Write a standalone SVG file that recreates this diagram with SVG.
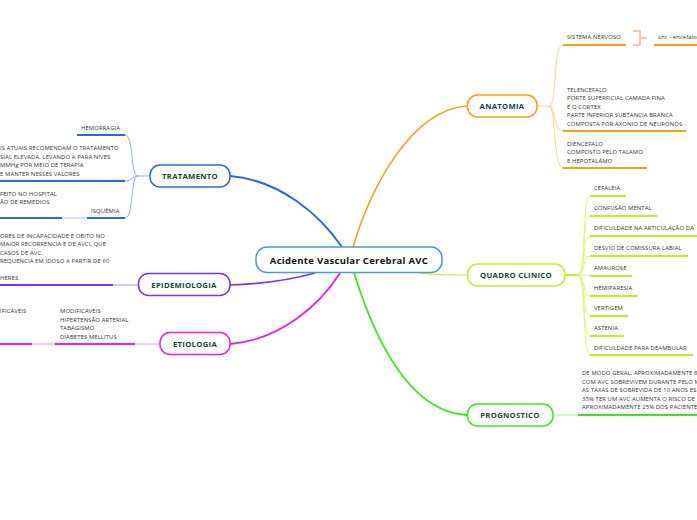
<svg xmlns="http://www.w3.org/2000/svg" width="697" height="520" viewBox="0 0 697 520">
<style>
text{font-family:"Open Sans","Noto Sans","Liberation Sans",sans-serif;fill:#333;font-size:5.9px;letter-spacing:.1px}
.n{font-size:7.7px;font-weight:700;fill:#0d4a3c;text-anchor:middle;letter-spacing:.3px}
.c{font-size:9.5px;font-weight:700;fill:#111;text-anchor:middle;letter-spacing:.3px}
path,line{fill:none}
rect{fill:#fff;stroke-width:1.5}
.u{stroke-width:2}.l{stroke-width:1}
</style>
<rect width="697" height="520" style="fill:#fff;stroke:none"/>
<g id="connectors">
<g stroke="#2b66f0">
<path d="M342 247C320 215 280 180 230 176" stroke-width="2" />
<path class="l" stroke="#8fb0fa" d="M150 176H138C130 176 134 135 125 135M138 176C132 176 132 181 125 181M138 176C130 176 134 218 125 218"/>
<line class="u" x1="77" y1="135" x2="125" y2="135"/><line class="u" x1="0" y1="181" x2="125" y2="181"/><line class="u" x1="0" y1="218" x2="62" y2="218"/><line class="u" x1="87" y1="218" x2="125" y2="218"/>
<line class="l" stroke="#a9c2fb" x1="62" y1="218" x2="87" y2="218"/>
</g>
<g stroke="#7b2ff7">
<path d="M315 273C290 280 260 284 230 285" stroke-width="1.6"/>
<line class="u" x1="0" y1="285" x2="113" y2="285"/><line class="l" stroke="#b98ffb" x1="113" y1="285" x2="138" y2="285"/>
</g>
<g stroke="#f01fe8">
<path d="M340 273C320 305 280 340 230 344" stroke-width="1.8"/>
<line class="u" x1="0" y1="344" x2="32" y2="344"/><line class="u" x1="55" y1="344" x2="135" y2="344"/>
<line class="l" stroke="#f88ff4" x1="32" y1="344" x2="55" y2="344"/><line class="l" stroke="#f88ff4" x1="135" y1="344" x2="160" y2="344"/>
</g>
<g stroke="#ff9d14">
<path d="M353 247C370 190 410 110 467 106" stroke-width="1.6"/>
<path class="l" stroke="#ffd28a" d="M537 106H549C558 106 552 45 563 45M549 106C556 106 553 131 563 131M549 106C556 106 553 168 563 168"/>
<line class="u" x1="563" y1="45" x2="626" y2="45"/><line class="u" x1="654" y1="45" x2="697" y2="45"/><line class="u" x1="563" y1="131" x2="686" y2="131"/><line class="u" x1="563" y1="168" x2="647" y2="168"/>
<path d="M633 31H640V45H633M640 38H647" stroke="#f2b9a0" stroke-width="1.5"/>
</g>
<g stroke="#c5ee1e">
<path d="M419 273C435 275 450 275 467 275" stroke-width="1.2"/>
<path class="l" stroke="#dff77f" d="M578 275C586 275 582 196 590 196M578 275C586 275 582 216 590 216M578 275C586 275 582 236 590 236M578 275C586 275 582 256 590 256M578 275C584 275 584 276 590 276M578 275C586 275 582 296 590 296M578 275C586 275 582 316 590 316M578 275C586 275 582 336 590 336M578 275C586 275 582 355 590 355"/>
<line stroke-width="2" x1="565" y1="275" x2="578" y2="275"/>
<g stroke-width="2"><line x1="590" y1="196" x2="626" y2="196"/><line x1="590" y1="216" x2="657" y2="216"/><line x1="590" y1="236" x2="697" y2="236"/><line x1="590" y1="256" x2="688" y2="256"/><line x1="590" y1="276" x2="632" y2="276"/><line x1="590" y1="296" x2="638" y2="296"/><line x1="590" y1="316" x2="628" y2="316"/><line x1="590" y1="336" x2="624" y2="336"/><line x1="590" y1="355" x2="693" y2="355"/></g>
</g>
<g stroke="#3fe81a">
<path d="M354 273C375 340 410 412 467 415" stroke-width="1.8"/>
<line class="l" stroke="#a6f590" x1="553" y1="415" x2="578" y2="415"/><line class="u" x1="578" y1="415" x2="697" y2="415"/>
</g>
</g>
<g id="center"><rect x="256" y="247" width="186" height="25.500" rx="11" stroke="#4a9bd8"/><text class="c" x="349" y="263.500">Acidente Vascular Cerebral AVC</text></g>
<g id="tratamento"><rect x="150" y="165" width="80" height="22" rx="10" stroke="#2b66f0"/><text class="n" x="190" y="179">TRATAMENTO</text></g>
<g id="epidemiologia"><rect x="138.500" y="273.500" width="91.500" height="22" rx="10" stroke="#7b2ff7"/><text class="n" x="184" y="287.500">EPIDEMIOLOGIA</text></g>
<g id="etiologia"><rect x="160" y="332.500" width="70" height="22" rx="10" stroke="#f01fe8"/><text class="n" x="195" y="346.500">ETIOLOGIA</text></g>
<g id="anatomia"><rect x="467.500" y="95" width="69.500" height="22" rx="10" stroke="#ff9d14"/><text class="n" x="502" y="109">ANATOMIA</text></g>
<g id="quadro"><rect x="467.500" y="264" width="97.500" height="22" rx="10" stroke="#c5ee1e"/><text class="n" x="516" y="278">QUADRO CLINICO</text></g>
<g id="prognostico"><rect x="467.500" y="404" width="85.500" height="22" rx="10" stroke="#3fe81a"/><text class="n" x="510" y="418">PROGNOSTICO</text></g>
<g id="tratamento-texts">
<text x="81" y="130">HEMORRAGIA</text>
<text x="0" y="150">IS ATUAIS RECOMENDAM O TRATAMENTO</text>
<text x="0" y="159">SIAL ELEVADA, LEVANDO A PARA NIVES</text>
<text x="0" y="167">MMHg POR MEIO DE TERAPIA</text>
<text x="0" y="176">E MANTER NESSES VALORES</text>
<text x="0" y="196">FEITO NO HOSPITAL</text>
<text x="0" y="204">ÃO DE REMEDIOS</text>
<text x="91" y="213">ISQUÊMIA</text>
</g>
<g id="epidemiologia-texts">
<text x="0" y="238">ORES DE INCAPACIDADE E OBITO NO</text>
<text x="0" y="246">MAIOR RECORRENCIA  E DE AVCI, QUE</text>
<text x="0" y="255">CASOS DE AVC.</text>
<text x="0" y="263">REQUENCIA EM IDOSO A PARTIR DE 60</text>
<text x="0" y="280">HERES</text>
</g>
<g id="etiologia-texts">
<text x="0" y="313">IFICAVEIS</text>
<text x="60" y="313">MODIFICÁVEIS</text>
<text x="60" y="322">HIPERTENSÃO ARTERIAL</text>
<text x="60" y="330">TABAGISMO</text>
<text x="60" y="339">DIABETES MELLITUS</text>
</g>
<g id="anatomia-texts">
<text x="567" y="39">SISTEMA NERVOSO</text>
<text x="658" y="39">snc - encefalo</text>
<text x="567" y="92">TELENCEFALO</text>
<text x="567" y="100">PORTE SUPERFICIAL CAMADA FINA</text>
<text x="567" y="109">É O CORTEX</text>
<text x="567" y="117">PARTE INFERIOR SUBTANCIA BRANCA</text>
<text x="567" y="126">COMPOSTA POR AXONIO DE NEURONOS</text>
<text x="567" y="146">DIENCEFALO</text>
<text x="567" y="154">COMPOSTO PELO TALAMO</text>
<text x="567" y="163">E HEPOTALÁMO</text>
</g>
<g id="quadro-texts">
<text x="594" y="190">CEFALEIA</text>
<text x="594" y="210">CONFUSÃO MENTAL</text>
<text x="594" y="230">DIFICULDADE NA ARTICULAÇÃO DA</text>
<text x="594" y="250">DESVIO DE COMISSURA LABIAL</text>
<text x="594" y="270">AMAUROSE</text>
<text x="594" y="290">HEMIPARESIA</text>
<text x="594" y="310">VERTIGEM</text>
<text x="594" y="330">ASTENIA</text>
<text x="594" y="350">DIFICULDADE PARA DEAMBULAR</text>
</g>
<g id="prognostico-texts">
<text x="582" y="375">DE MODO GERAL, APROXIMADAMENTE 8</text>
<text x="582" y="384">COM AVC SOBREVIVEM DURANTE PELO M</text>
<text x="582" y="392">AS TAXAS DE SOBREVIDA DE 10 ANOS ES</text>
<text x="582" y="401">35% TER UM AVC AUMENTA O RISCO DE</text>
<text x="582" y="409">APROXIMADAMENTE 25% DOS PACIENTE</text>
</g>
</svg>
